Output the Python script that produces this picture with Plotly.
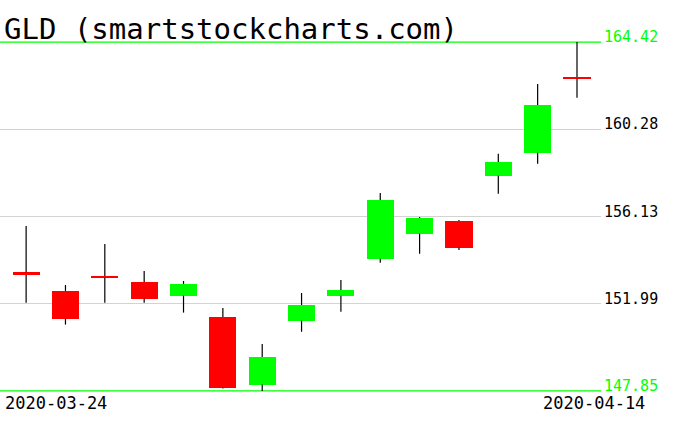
import plotly.graph_objects as go

# GLD daily candles
dates = [
    "2020-03-24", "2020-03-25", "2020-03-26", "2020-03-27", "2020-03-30",
    "2020-03-31", "2020-04-01", "2020-04-02", "2020-04-03", "2020-04-06",
    "2020-04-07", "2020-04-08", "2020-04-09", "2020-04-13", "2020-04-14",
]
opens = [153.49, 152.60, 153.31, 153.02, 152.37, 151.36, 148.15, 151.19,
         152.37, 154.13, 155.32, 155.92, 158.07, 159.16, 162.76]
highs = [155.68, 152.88, 154.83, 153.55, 153.07, 151.79, 150.08, 152.50,
         153.12, 157.25, 156.11, 155.97, 159.12, 162.43, 164.42]
lows = [152.04, 151.00, 152.04, 152.04, 151.57, 147.96, 147.85, 150.66,
        151.61, 153.94, 154.37, 154.54, 157.22, 158.64, 161.78]
closes = [153.36, 151.28, 153.23, 152.23, 152.93, 148.00, 149.46, 151.93,
          152.64, 156.92, 156.06, 154.65, 158.72, 161.43, 162.68]

price_levels = [147.85, 151.99, 156.13, 160.28, 164.42]
title_text = "GLD (smartstockcharts.com)"

GREEN = "#00ff00"
RED = "#ff0000"
GRID = "#d3d3d3"
MONO = "DejaVu Sans Mono"

fig = go.Figure()

# wicks: upper and lower segment per day so they stop at the body
wick_x, wick_y = [], []
for d, o, hi, lo, c in zip(dates, opens, highs, lows, closes):
    wick_x += [d, d, None, d, d, None]
    wick_y += [hi, max(o, c), None, min(o, c), lo, None]
fig.add_trace(
    go.Scatter(
        x=wick_x, y=wick_y, mode="lines",
        line=dict(color="black", width=1.2),
        hoverinfo="skip", showlegend=False,
    )
)

# bodies
fig.add_trace(
    go.Bar(
        x=dates,
        base=[min(o, c) for o, c in zip(opens, closes)],
        y=[abs(c - o) for o, c in zip(opens, closes)],
        width=0.69,
        marker=dict(
            color=[GREEN if c > o else RED for o, c in zip(opens, closes)],
            line=dict(width=0),
        ),
        showlegend=False,
    )
)

lo_lvl, hi_lvl = price_levels[0], price_levels[-1]
pad = 0.1

# outer (min / max) lines in green
for lvl in (lo_lvl, hi_lvl):
    fig.add_shape(
        type="line", xref="paper", x0=0, x1=1, yref="y", y0=lvl, y1=lvl,
        line=dict(color=GREEN, width=1.2), layer="below",
    )

# price labels to the right, sitting on their lines
for lvl in price_levels:
    edge = lvl in (lo_lvl, hi_lvl)
    fig.add_annotation(
        xref="paper", x=1.0, xanchor="left", xshift=1,
        yref="y", y=lvl, yanchor="bottom", yshift=-6,
        text=f"{lvl:.2f}", showarrow=False,
        font=dict(family=MONO, size=15, color=GREEN if edge else "black"),
    )

# first and last date under the chart
fig.add_annotation(
    xref="paper", x=0.0, xanchor="left", xshift=3,
    yref="paper", y=0, yanchor="top", yshift=2,
    text=dates[0], showarrow=False,
    font=dict(family=MONO, size=17, color="black"),
)
fig.add_annotation(
    xref="paper", x=1.077, xanchor="right",
    yref="paper", y=0, yanchor="top", yshift=2,
    text=dates[-1], showarrow=False,
    font=dict(family=MONO, size=17, color="black"),
)

fig.update_layout(
    width=676,
    height=431,
    paper_bgcolor="white",
    plot_bgcolor="white",
    margin=dict(l=0, r=75, t=40, b=38),
    bargap=0,
    title=dict(
        text=title_text, x=0.006, xanchor="left",
        y=0.957, yanchor="top", yref="container",
        font=dict(family=MONO, size=29, color="black"),
    ),
    xaxis=dict(
        type="category", range=[-0.664, 14.61],
        showgrid=False, showticklabels=False, zeroline=False,
        showline=False, ticks="",
    ),
    yaxis=dict(
        range=[lo_lvl - pad, hi_lvl + pad],
        tickvals=price_levels[1:-1],
        showgrid=True, gridcolor=GRID, gridwidth=1,
        showticklabels=False, zeroline=False, showline=False, ticks="",
    ),
)

# drop the page's default body margin so the chart sits at the window corner
fig.write_html(
    "out.html",
    config={"displayModeBar": False},
    post_script="document.body.style.margin='0px';",
)
